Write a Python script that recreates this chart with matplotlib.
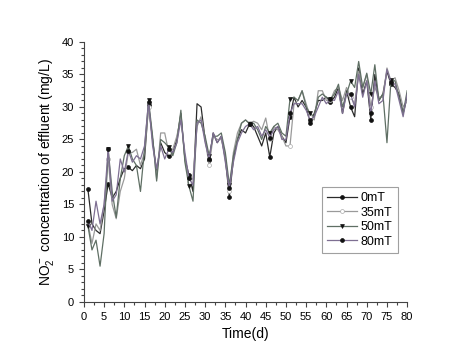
import matplotlib
matplotlib.use("Agg")
import matplotlib.pyplot as plt
from matplotlib.ticker import MultipleLocator

plt.rcParams["font.family"] = ["Liberation Sans", "DejaVu Sans"]
plt.rcParams["mathtext.default"] = "regular"

days = list(range(1, 81))

no2_0mT = [17.3, 12, 11, 10.5, 14, 18.2, 16, 17, 19, 20.5,
           20.7, 20.2, 21, 20.5, 22, 30.3, 25, 20, 24.5, 23,
           22.4, 23, 25, 29, 22, 19.5, 17, 30.5, 30, 25,
           21.8, 26, 24.5, 25.5, 22, 16.2, 22, 25, 26.5, 26,
           27.4, 27, 25.5, 24, 26, 22.3, 26, 27, 25.5, 24.5,
           28.5, 31.5, 30, 31, 30, 27.5, 29, 31, 31, 31.5,
           30.8, 31.5, 33, 29, 32.5, 30, 28.5, 36, 32, 34,
           28, 35, 31, 32, 35.5, 33.5, 33, 32, 29, 31.5]

no2_35mT = [12, 9, 12, 11, 15, 22, 15, 12.8, 17, 19,
            23, 23, 23.5, 21, 23, 30, 25, 19, 26, 26,
            23, 23.5, 25.5, 28.5, 22, 18.5, 19, 27, 28.5, 25,
            21, 25.5, 25, 25, 22.5, 17, 23, 26, 27.5, 28,
            27.5, 27.8, 27.5, 26.5, 28.3, 25, 27, 26.5, 25.5, 24,
            24, 30.5, 31, 32.5, 30.5, 28.5, 28, 32.5, 32.5, 31,
            31, 32.5, 33, 31, 33, 31.5, 30.5, 35.5, 33, 35,
            30, 33, 31.5, 31.5, 36, 34, 34.5, 32.5, 30, 31]

no2_50mT = [11.7, 8, 9.5, 5.5, 10.5, 23.5, 17, 13, 19, 22.5,
            24, 22, 21, 17, 23.5, 31, 25.5, 18.6, 25, 24.5,
            23.8, 22.5, 24.5, 29.5, 21.5, 17.8, 15.5, 28, 27.5, 25.5,
            22.5, 25.5, 25.5, 26, 23, 18, 22.5, 25, 27.5, 28,
            27.4, 27.5, 26.5, 25, 27, 26, 27, 27.5, 26, 25.5,
            31.2, 31.5, 31, 32.5, 30, 29, 28.5, 31.5, 32, 31.5,
            31.2, 32, 33.5, 30, 32, 34, 33, 37, 33, 35.2,
            32, 36.5, 31, 32, 24.5, 34.2, 34, 31.5, 29, 32.5]

no2_80mT = [12.5, 11, 15.5, 12, 15, 23.5, 15.5, 16.5, 22, 20,
            23.3, 21.5, 22.5, 22, 24, 30.8, 24, 20.5, 24, 22,
            23.5, 23, 24.5, 28, 23, 19, 18, 27.5, 28, 24.5,
            22, 26, 24.5, 25.5, 21.5, 17.5, 21.5, 24.5, 26, 27,
            27.4, 26.5, 27, 25.5, 26.5, 25.3, 26.5, 27, 25, 25,
            29, 30.5, 30.5, 30.5, 29.5, 28, 28.5, 30, 31.5, 30.5,
            31.2, 31, 32.5, 29, 32, 32, 30, 35, 31.5, 34,
            29, 34, 30.5, 31, 35.8, 33.8, 33.5, 31, 28.5, 32]

labels = ["0mT", "35mT", "50mT", "80mT"]
series = [no2_0mT, no2_35mT, no2_50mT, no2_80mT]
colors = ["#2b2b2b", "#9a9a9a", "#5f6f64", "#7e6f92"]
markers = ["o", "o", "v", "o"]
mfc = ["#111111", "#ffffff", "#111111", "#111111"]

fig = plt.figure(figsize=(4.74, 3.62), dpi=100)
ax = fig.add_axes([0.177, 0.166, 0.682, 0.718])

for vals, lab, c, m, fc in zip(series, labels, colors, markers, mfc):
    ax.plot(days, vals, color=c, lw=0.9, marker=m, markersize=2.8,
            markerfacecolor=fc, markeredgecolor="#111111" if fc != "#ffffff" else "#aaaaaa",
            markeredgewidth=0.5, markevery=5, label=lab)

ax.set_xlim(0, 80)
ax.set_ylim(0, 40)
ax.xaxis.set_major_locator(MultipleLocator(5))
ax.xaxis.set_minor_locator(MultipleLocator(2.5))
ax.yaxis.set_major_locator(MultipleLocator(5))
ax.yaxis.set_minor_locator(MultipleLocator(1))
ax.tick_params(which="both", direction="out", labelsize=8, color="#444444", width=0.8)
ax.tick_params(which="major", length=3.5)
ax.tick_params(which="minor", length=2)
ax.spines["top"].set_visible(False)
ax.spines["right"].set_visible(False)
for s in ("left", "bottom"):
    ax.spines[s].set_color("#444444")

ax.set_xlabel("Time(d)", fontsize=10, labelpad=4)
ax.set_ylabel("NO$_2^-$ concentration of effluent (mg/L)", fontsize=10, labelpad=4)

leg = ax.legend(loc="lower right", bbox_to_anchor=(0.99, 0.165), fontsize=9,
                frameon=True, fancybox=False, handlelength=2.4,
                labelspacing=0.2, borderpad=0.4, handletextpad=0.3)
leg.get_frame().set_edgecolor("#888888")
leg.get_frame().set_linewidth(0.8)

fig.savefig("out.png", dpi=100)
